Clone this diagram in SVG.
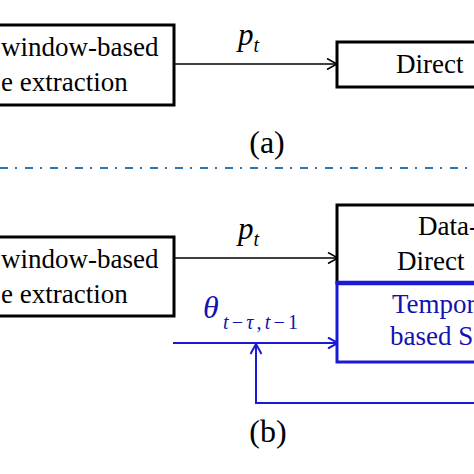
<svg xmlns="http://www.w3.org/2000/svg" width="474" height="474" viewBox="0 0 474 474" font-family="'Liberation Serif', 'Times New Roman', serif">
<style>
  text { font-family: 'Liberation Serif', 'Times New Roman', serif; }
  .t { font-size: 27px; fill: #000; }
  .tb { font-size: 27px; fill: #1212b0; }
  .box { fill: #fff; stroke: #000; stroke-width: 3; }
  .bbox { fill: #fff; stroke: #1a1ad6; stroke-width: 3; }
  .ln { fill: none; stroke: #000; stroke-width: 1.6; }
  .bl { fill: none; stroke: #1a1ad6; stroke-width: 2; }
  .math { font-style: italic; }
  .up { font-style: normal; }
</style>
<defs>
  <marker id="ah" viewBox="0 0 12 12" refX="11" refY="6" markerWidth="12" markerHeight="12" markerUnits="userSpaceOnUse" orient="auto">
    <path d="M1,0.5 L11,6 L1,11.5" fill="none" stroke="#000" stroke-width="1.6"/>
  </marker>
  <marker id="ahb" viewBox="0 0 12 12" refX="11" refY="6" markerWidth="12" markerHeight="12" markerUnits="userSpaceOnUse" orient="auto">
    <path d="M1,0.5 L11,6 L1,11.5" fill="none" stroke="#1a1ad6" stroke-width="2"/>
  </marker>
</defs>
<rect width="474" height="474" fill="#fff"/>

<g id="connectors">
  <line class="ln" x1="174" y1="64" x2="337" y2="64" marker-end="url(#ah)"/>
  <line class="ln" x1="174" y1="258" x2="338" y2="258" marker-end="url(#ah)"/>
  <line class="bl" x1="173" y1="343" x2="338" y2="343" marker-end="url(#ahb)"/>
  <polyline class="bl" points="480,403 256,403 256,344" marker-end="url(#ahb)"/>
</g>

<g id="a-feature">
  <rect class="box" x="-10" y="25" width="184" height="80"/>
  <text class="t" x="1" y="56">window-based</text>
  <text class="t" x="1" y="91">e extraction</text>
</g>
<g id="a-pt">
  <text class="math" x="238" y="45" font-size="31">p<tspan font-size="20" dy="7">t</tspan></text>
</g>
<g id="a-direct">
  <rect class="box" x="337" y="42" width="150" height="45"/>
  <text class="t" x="396" y="73">Direct</text>
</g>
<g id="a-label">
  <text class="t" x="267" y="153" text-anchor="middle" style="font-size:32px">(a)</text>
</g>

<line x1="0" y1="168" x2="474" y2="168" stroke="#2e75b6" stroke-width="2" stroke-dasharray="8 7 2 8"/>

<g id="b-feature">
  <rect class="box" x="-10" y="237" width="184" height="79"/>
  <text class="t" x="1" y="268">window-based</text>
  <text class="t" x="1" y="303">e extraction</text>
</g>
<g id="b-pt">
  <text class="math" x="238" y="239" font-size="31">p<tspan font-size="20" dy="7">t</tspan></text>
</g>
<g id="b-direct">
  <rect class="box" x="337" y="205" width="150" height="78"/>
  <text class="t" x="418" y="235">Data-</text>
  <text class="t" x="397" y="270">Direct</text>
</g>
<g id="b-temporal">
  <rect class="bbox" x="337" y="283" width="150" height="79"/>
  <line x1="336" y1="283" x2="480" y2="283" stroke="#1a1ad6" stroke-width="4.5"/>
  <text class="tb" x="392" y="313">Tempor</text>
  <text class="tb" x="390" y="345">based S</text>
</g>
<g id="b-theta">
  <text class="math" x="203" y="318" font-size="32" fill="#1212b0">θ</text>
  <text class="math" x="223" y="329" font-size="20" fill="#1212b0" textLength="75" lengthAdjust="spacing">t<tspan class="up">−</tspan>τ<tspan class="up">,</tspan>t<tspan class="up">−1</tspan></text>
</g>
<g id="b-label">
  <text class="t" x="268" y="442" text-anchor="middle" style="font-size:32px">(b)</text>
</g>
</svg>
